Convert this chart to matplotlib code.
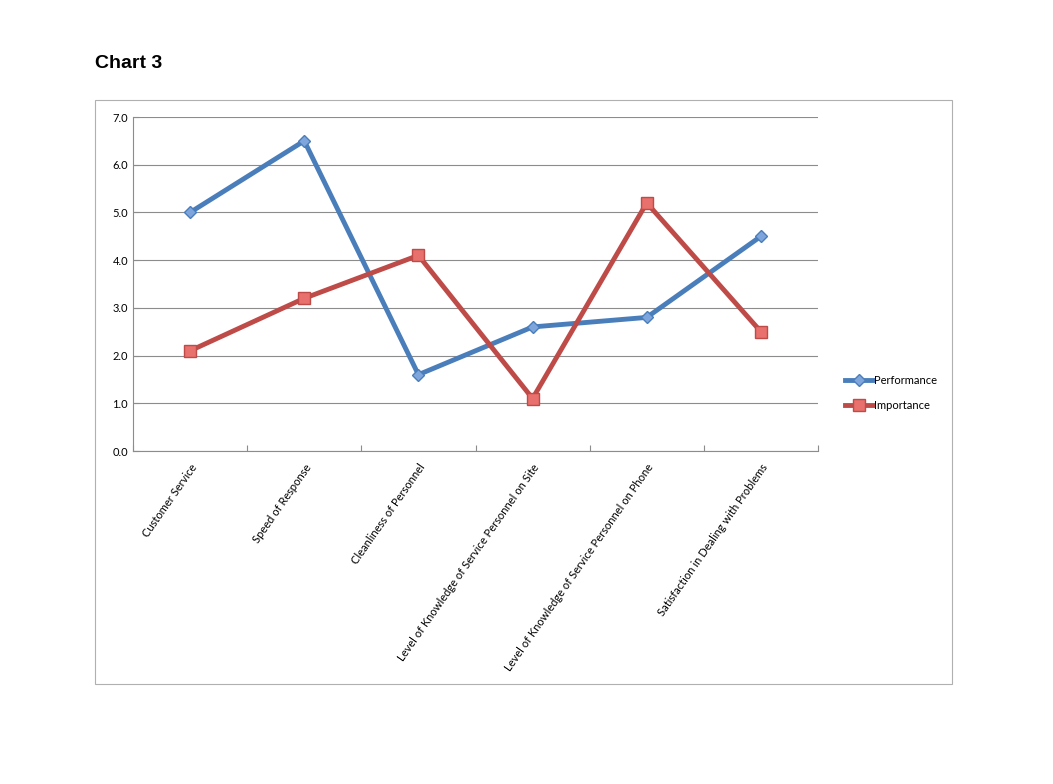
import matplotlib.pyplot as plt
from matplotlib.patches import Rectangle

categories = ['Customer Service', 'Speed of Response', 'Cleanliness of Personnel',
              'Level of Knowledge of Service Personnel on Site',
              'Level of Knowledge of Service Personnel on Phone',
              'Satisfaction in Dealing with Problems']
performance = [5.0, 6.5, 1.6, 2.6, 2.8, 4.5]
importance = [2.1, 3.2, 4.1, 1.1, 5.2, 2.5]

plt.rcParams['font.family'] = ['Lato', 'DejaVu Sans']

fig = plt.figure(figsize=(10.53, 7.84), dpi=100)
fig.text(95 / 1053, 1 - 63 / 784, 'Chart 3', fontsize=14, fontweight='bold',
         family='Liberation Sans', va='center')
fig.patches.append(Rectangle((95 / 1053, 1 - 684 / 784), 857 / 1053, 584 / 784,
                             transform=fig.transFigure, fill=False,
                             edgecolor='#b0b0b0', linewidth=0.8))

ax = fig.add_axes([133 / 1053, 1 - 451 / 784, 685 / 1053, 334 / 784])
x = list(range(len(categories)))
ax.plot(x, performance, color='#4a7ebb', linewidth=3.5, marker='D', markersize=6,
        markerfacecolor='#7fa6dc', markeredgecolor='#4a7ebb', label='Performance', zorder=3)
ax.plot(x, importance, color='#be4b48', linewidth=3.5, marker='s', markersize=8,
        markerfacecolor='#e8706d', markeredgecolor='#be4b48', label='Importance', zorder=3)

ax.set_xlim(-0.5, len(categories) - 0.5)
ax.set_ylim(0, 7)
ax.set_yticks([i for i in range(8)])
ax.set_yticklabels([f'{i:.1f}' for i in range(8)], fontsize=8)
ax.yaxis.grid(True, color='#8c8c8c', linewidth=0.8)
ax.set_axisbelow(True)
ax.set_xticks([i + 0.5 for i in range(-1, len(categories))], minor=False)
ax.set_xticklabels([])
ax.set_xticks(x, minor=True)
ax.set_xticklabels(categories, minor=True, rotation=55, ha='right',
                   rotation_mode='anchor', fontsize=8)
ax.tick_params(axis='x', which='minor', length=0, pad=8)
ax.tick_params(axis='x', which='major', length=4, color='#8c8c8c', direction='in')
ax.tick_params(axis='y', length=4, color='#8c8c8c', direction='in')
for side in ['top', 'right']:
    ax.spines[side].set_visible(False)
for side in ['left', 'bottom']:
    ax.spines[side].set_color('#8c8c8c')

fig.legend(loc='center left', bbox_to_anchor=(835 / 1053, 1 - 393 / 784), frameon=False,
           fontsize=8, handlelength=2.5, handletextpad=0.1, labelspacing=1.2)

fig.savefig('out.png', dpi=100)
